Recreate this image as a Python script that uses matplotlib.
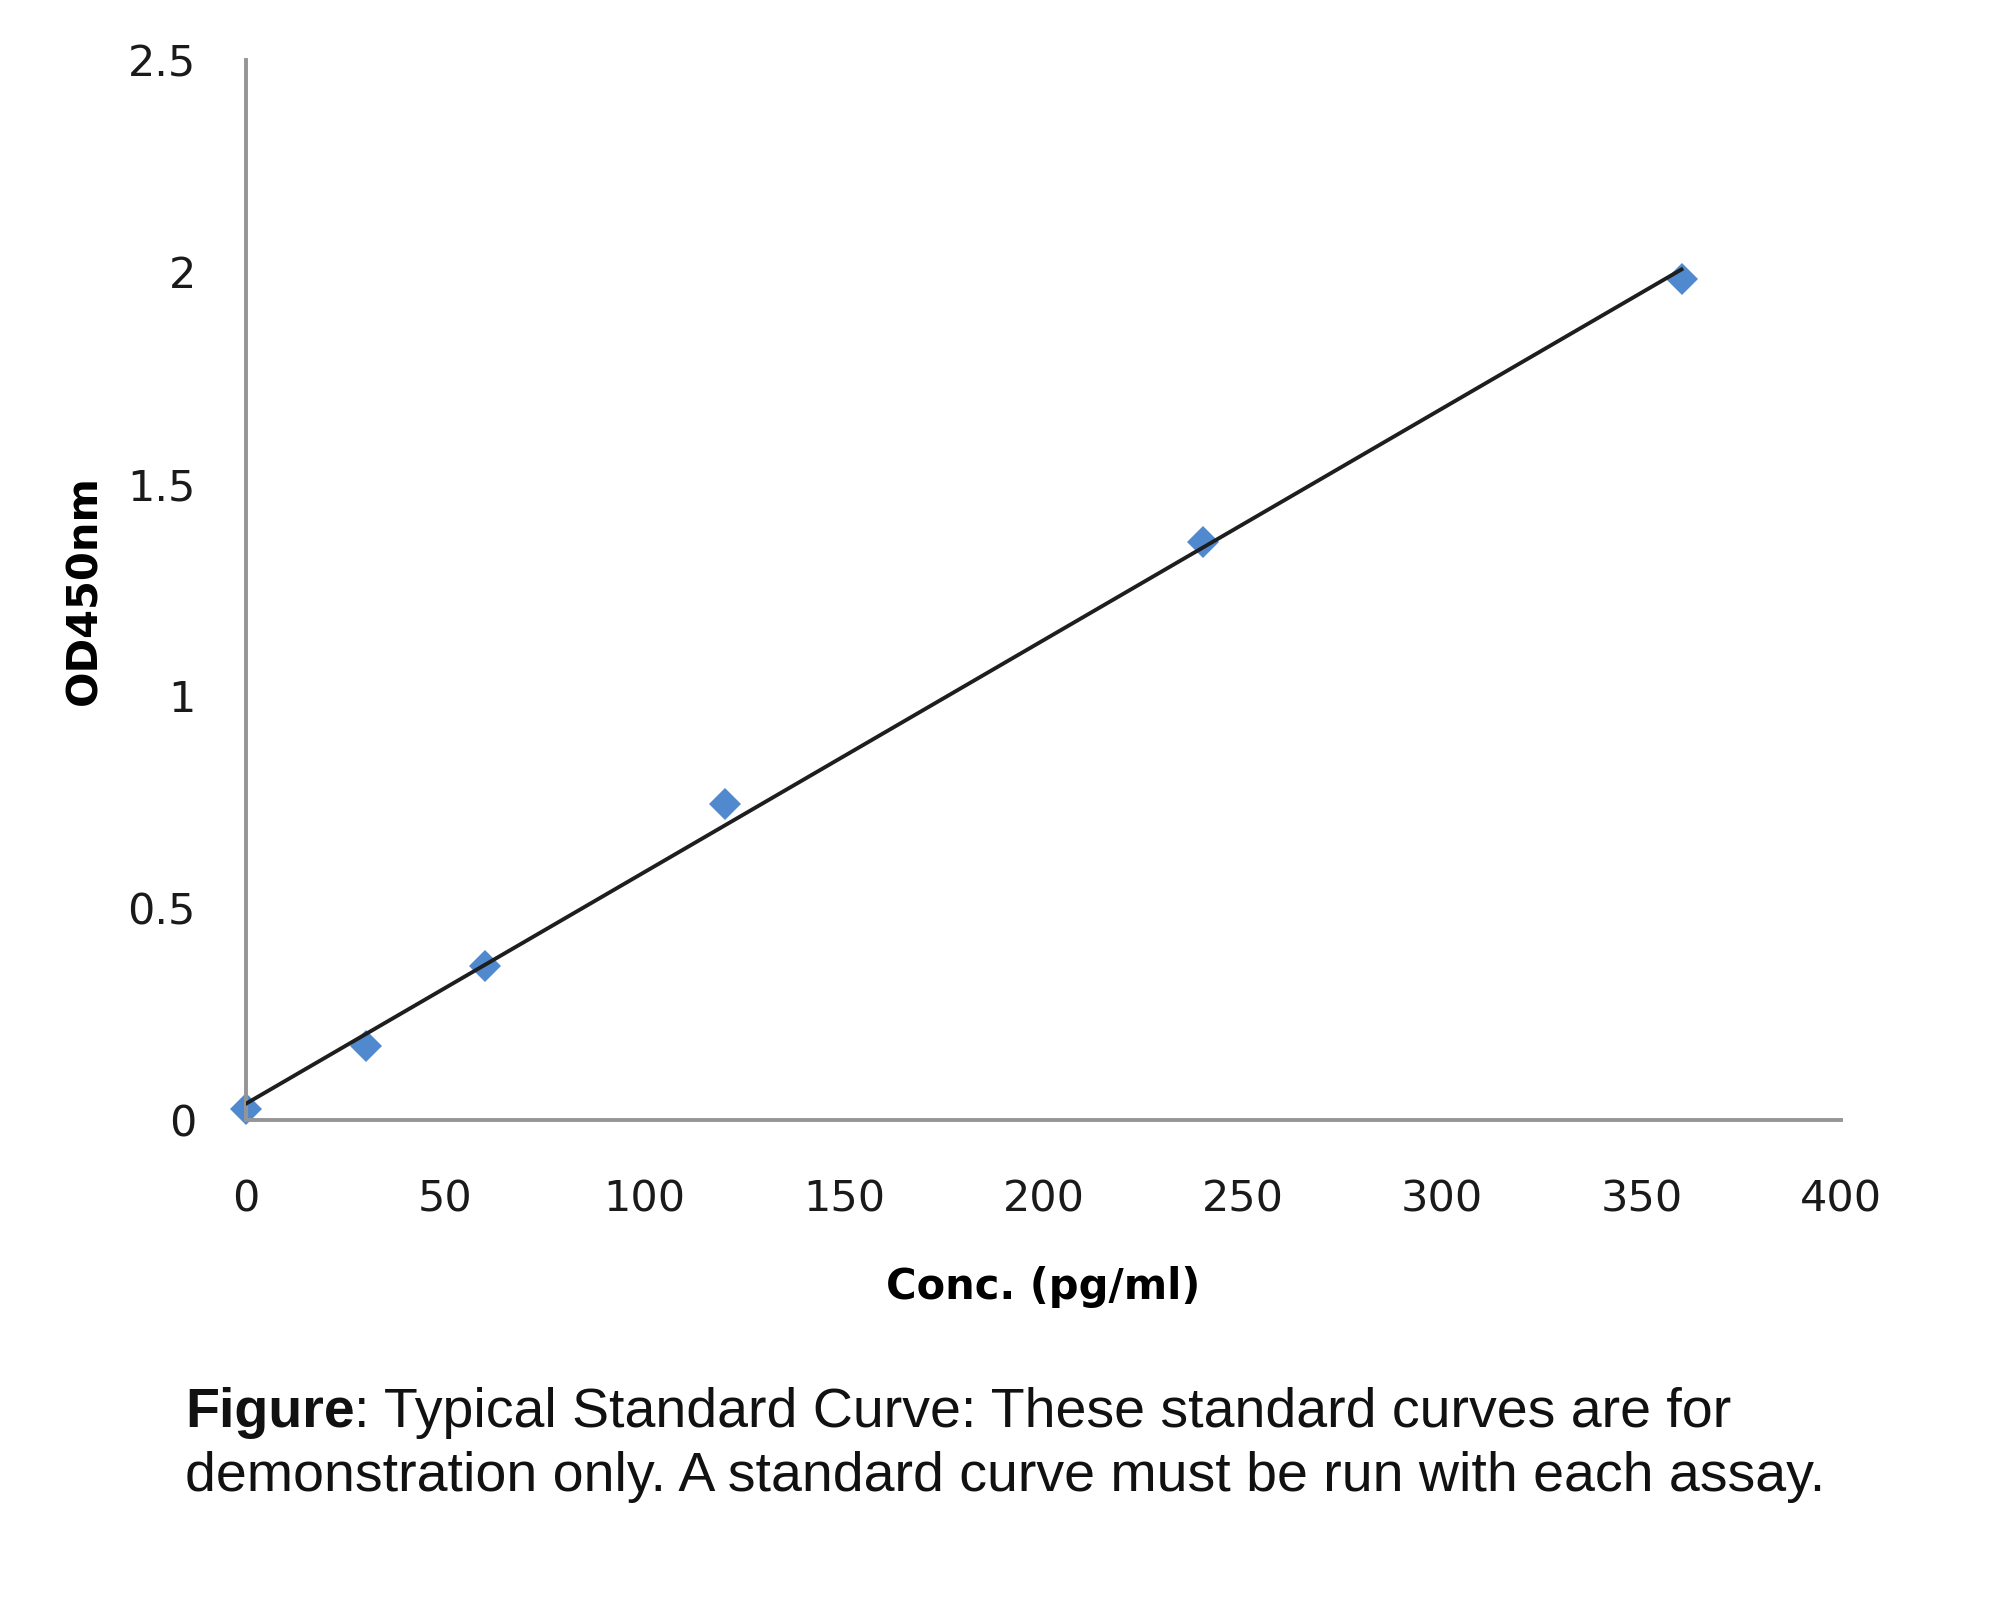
#!/usr/bin/env python3
# Typical ELISA standard curve (OD450 vs concentration)

import matplotlib
matplotlib.use("Agg")
import matplotlib.pyplot as plt
import numpy as np

#------------------------------------------------------------------------------
# Data
#------------------------------------------------------------------------------

conc = [0, 30, 60, 120, 240, 360]            # pg/ml
od450 = [0.027, 0.175, 0.364, 0.746, 1.363, 1.983]

xticks = [0, 50, 100, 150, 200, 250, 300, 350, 400]
yticks = [0, 0.5, 1, 1.5, 2, 2.5]
yticklabels = ["0", "0.5", "1", "1.5", "2", "2.5"]

#------------------------------------------------------------------------------
# Plot
#------------------------------------------------------------------------------

fig = plt.figure(figsize=(20, 16), dpi=100)
ax = fig.add_axes([0.123, 0.30, 0.7975, 0.6625])

# linear trend line through the standards
slope, icpt = np.polyfit(conc, od450, 1)
fit_x = np.array([min(conc), max(conc)])
ax.plot(fit_x, slope * fit_x + icpt, color="#1e1e1e", linewidth=2.8, zorder=3)

ax.plot(conc, od450, linestyle="none", marker="D", markersize=16,
        color="#5189CF", markeredgewidth=0, zorder=2, clip_on=False)

ax.set_xlim(0, 400)
ax.set_ylim(0, 2.5)
ax.set_xticks(xticks)
ax.set_yticks(yticks)
ax.set_yticklabels(yticklabels)

for side in ["top", "right"]:
    ax.spines[side].set_visible(False)
for side in ["left", "bottom"]:
    ax.spines[side].set_color("#959595")
    ax.spines[side].set_linewidth(2.8)

ax.tick_params(length=0, labelsize=31, colors="#1a1a1a", pad=0)
ax.tick_params(axis="x", pad=42)
ax.tick_params(axis="y", pad=36)

ax.set_xlabel("Conc. (pg/ml)", fontsize=30, fontweight="bold", labelpad=33)
ax.set_ylabel("OD450nm", fontsize=30, fontweight="bold", labelpad=16)

#------------------------------------------------------------------------------
# Caption
#------------------------------------------------------------------------------

cap_font = dict(fontsize=40, family="Liberation Sans", color="#111111")
fig.text(0.0925, 0.108, "Figure", fontweight="bold", **cap_font)
fig.text(0.177, 0.108, ": Typical Standard Curve: These standard curves are for", **cap_font)
fig.text(0.0925, 0.068, "demonstration only. A standard curve must be run with each assay.", **cap_font)

fig.savefig("out.png", dpi=100)
